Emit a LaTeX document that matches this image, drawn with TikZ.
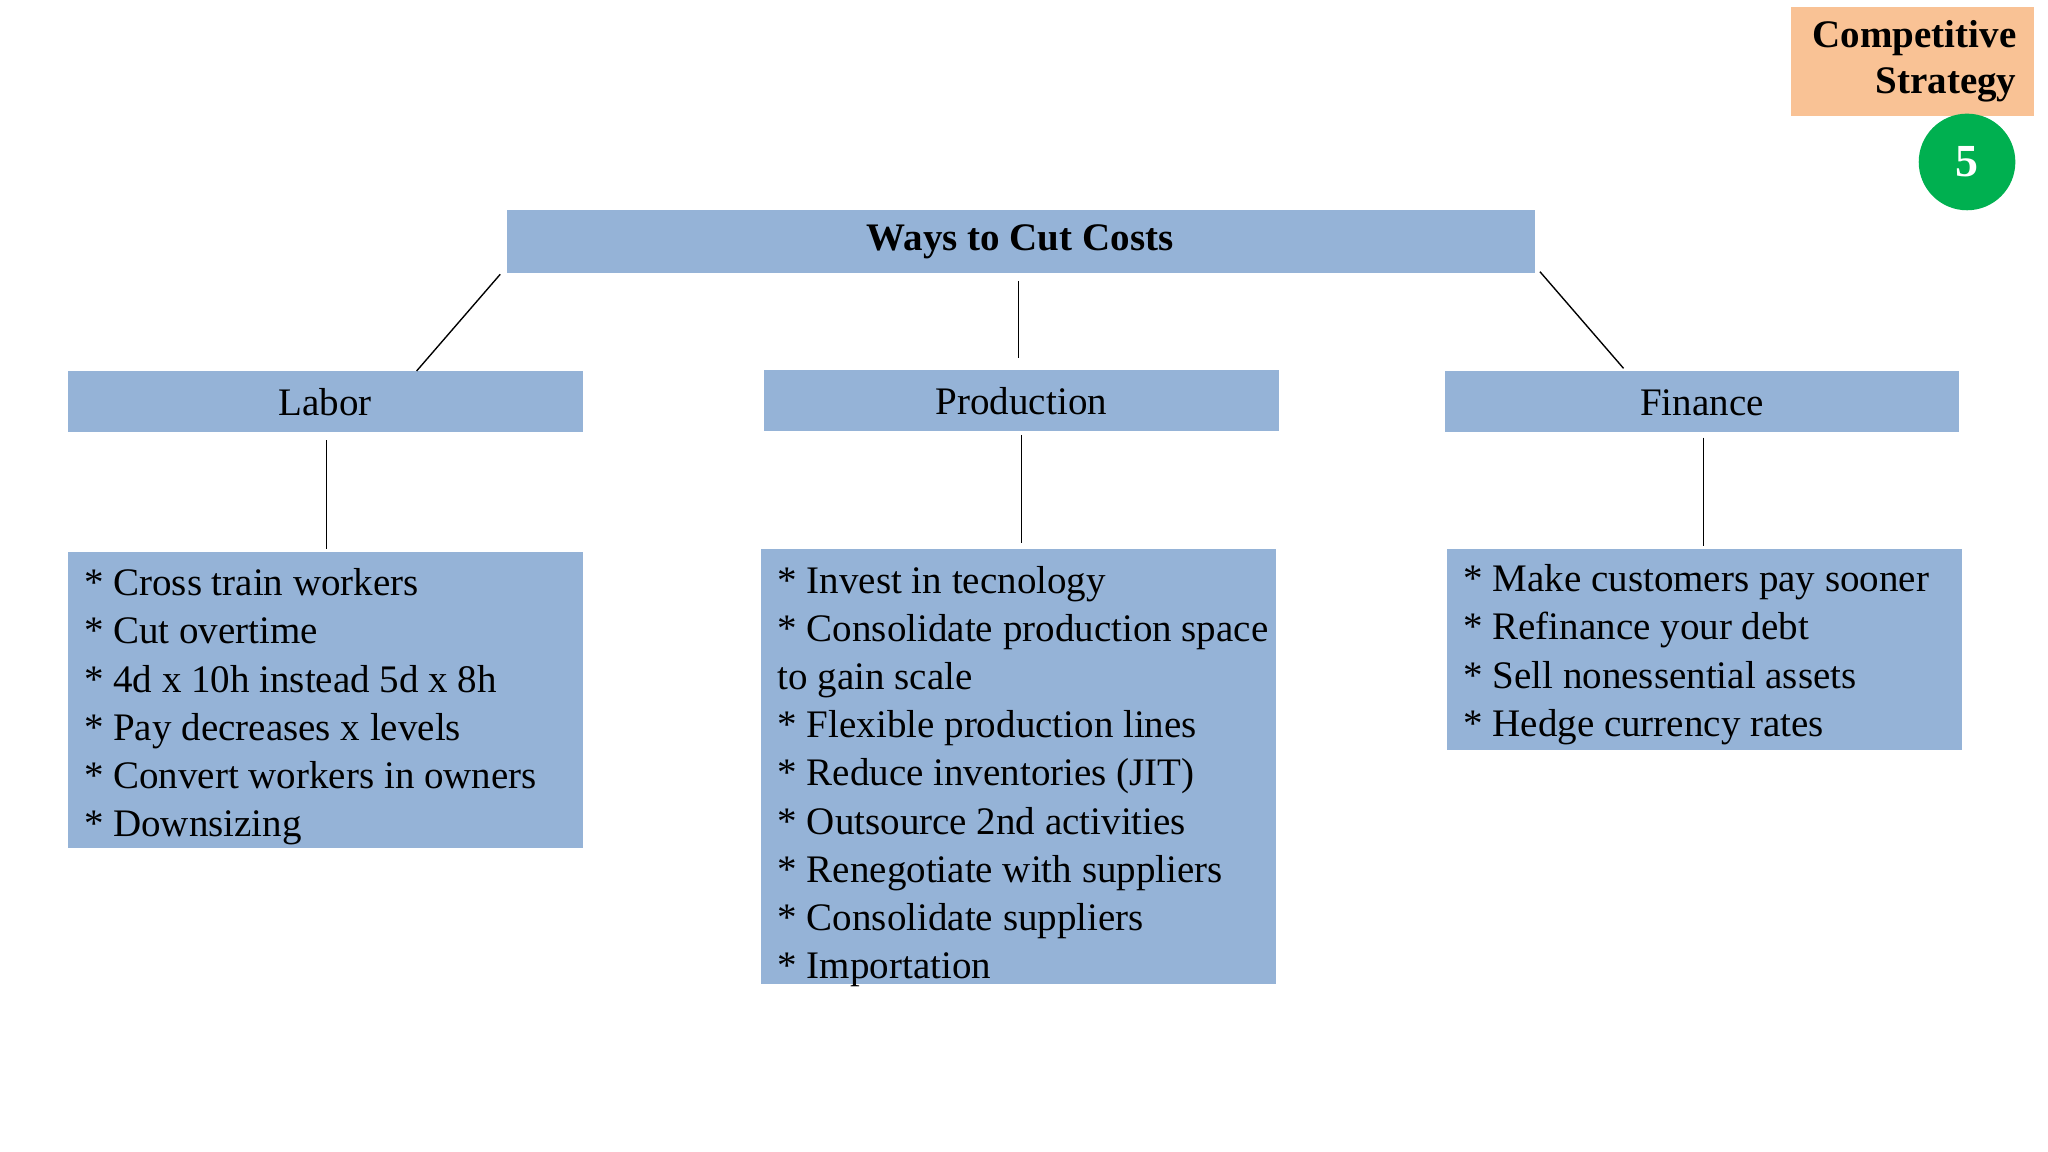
\documentclass[tikz,border=0pt]{standalone}
\usepackage{fontspec}
\setmainfont{Liberation Serif}
\definecolor{bx}{HTML}{95B3D7}
\definecolor{peach}{HTML}{F9C295}
\definecolor{grn}{HTML}{00B050}
\begin{document}
\begin{tikzpicture}[x=0.02cm,y=-0.02cm,
 hdr/.style={fill=bx,draw=none,font=\fontsize{17}{20}\selectfont},
 lst/.style={fill=bx,draw=none,anchor=north west,align=left,inner xsep=0.24cm,inner ysep=0.18cm,font=\fontsize{17}{21}\selectfont},
 conn/.style={draw=black,line width=0.6pt}]
\useasboundingbox (0,0) rectangle (1568,882);
\fill[bx] (388,161) rectangle (1175,209);
\node[font=\fontsize{17}{20}\selectfont\bfseries] (top) at (781,185) {Ways to Cut Costs};
\fill[bx] (52,284) rectangle (446,331); \node[font=\fontsize{17}{20}\selectfont] (lab) at (249,308) {Labor};
\fill[bx] (585,283) rectangle (979,330); \node[font=\fontsize{17}{20}\selectfont] (pro) at (782,307) {Production};
\fill[bx] (1106,284) rectangle (1500,331); \node[font=\fontsize{17}{20}\selectfont] (fin) at (1303,308) {Finance};
\fill[bx] (52,423) rectangle (446,649);
\node[lst,fill=none] (l1) at (52,426) {* Cross train workers\\* Cut overtime\\* 4d x 10h instead 5d x 8h\\* Pay decreases x levels\\* Convert workers in owners\\* Downsizing};
\fill[bx] (583,420) rectangle (977,753);
\node[lst,fill=none] (l2) at (583,424) {* Invest in tecnology\\* Consolidate production space\\to gain scale\\* Flexible production lines\\* Reduce inventories (JIT)\\* Outsource 2nd activities\\* Renegotiate with suppliers\\* Consolidate suppliers\\* Importation};
\fill[bx] (1108,420) rectangle (1502,574);
\node[lst,fill=none] (l3) at (1108,423) {* Make customers pay sooner\\* Refinance your debt\\* Sell nonessential assets\\* Hedge currency rates};
\fill[peach] (1371,5) rectangle (1557,89);
\node[font=\fontsize{17}{20}\selectfont\bfseries,align=right,anchor=east] (cs) at (1550,47) {Competitive\\Strategy};
\node[circle,fill=grn,minimum size=1.48cm,inner sep=0pt,font=\fontsize{20}{24}\selectfont\bfseries,text=white] (five) at (1506,124) {5};
\coordinate (a1) at (383,210); \coordinate (a2) at (319,284);
\coordinate (b1) at (780,215); \coordinate (b2) at (780,274);
\coordinate (c1) at (1179,208); \coordinate (c2) at (1243,282);
\coordinate (d1) at (250,337); \coordinate (d2) at (250,420);
\coordinate (e1) at (782,333); \coordinate (e2) at (782,416);
\coordinate (f1) at (1304,335); \coordinate (f2) at (1304,418);
\draw[conn] (a1)--(a2); \draw[conn] (b1)--(b2); \draw[conn] (c1)--(c2);
\draw[conn] (d1)--(d2); \draw[conn] (e1)--(e2); \draw[conn] (f1)--(f2);
\end{tikzpicture}
\end{document}
